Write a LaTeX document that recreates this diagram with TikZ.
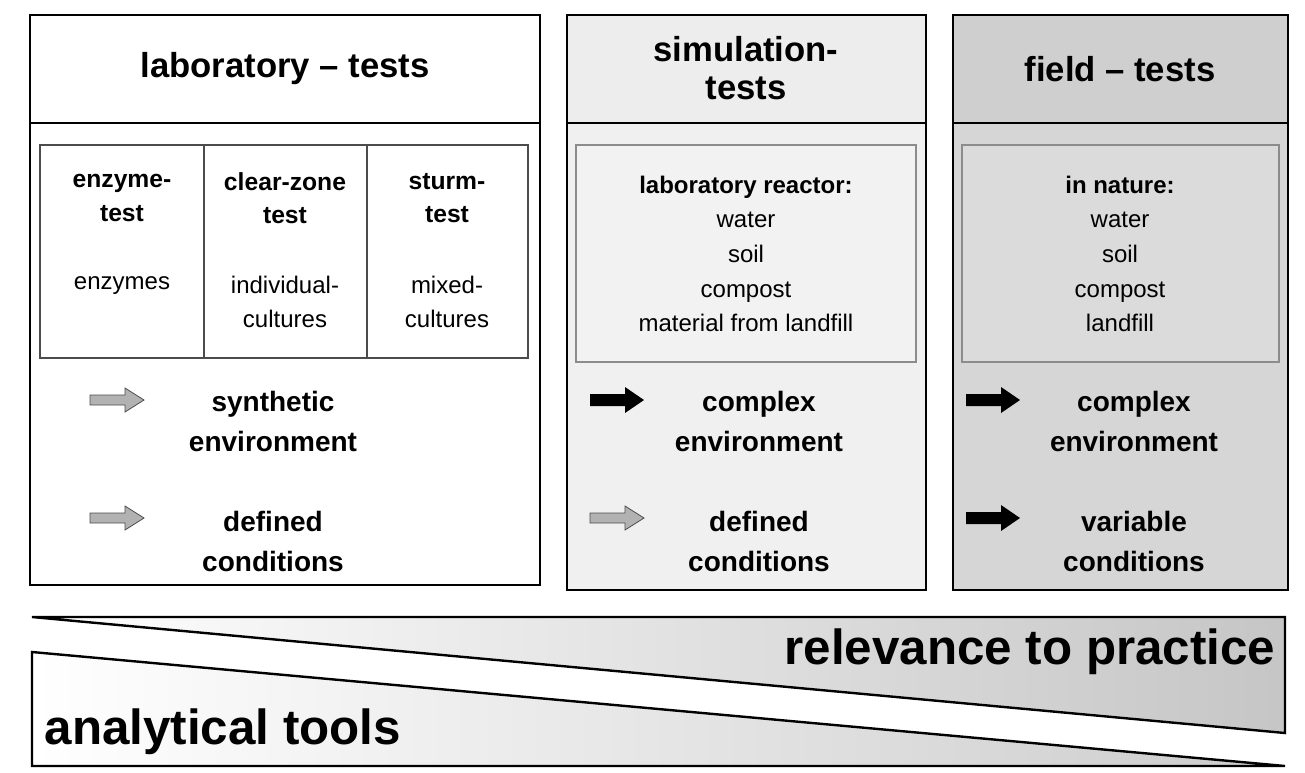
\documentclass[tikz,border=0pt]{standalone}
\usepackage{fontspec}
\setmainfont{Liberation Sans}
\begin{document}
\begin{tikzpicture}[x=0.75pt,y=-0.75pt,
 box/.style={draw=black,line width=1.6pt},
 inner/.style={draw=black!70,line width=0.8pt},
 hd/.style={font=\fontsize{26}{29}\selectfont\bfseries,align=center},
 bt/.style={font=\fontsize{21}{30}\selectfont\bfseries,align=center},
 st/.style={font=\fontsize{18}{26}\selectfont,align=center},
 sb/.style={font=\fontsize{18.5}{25}\selectfont\bfseries,align=center},
 garr/.pic={\draw[draw=black!70,fill=gray!60,line width=0.6pt] (-27,-5) -- (8,-5) -- (8,-12) -- (27,0) -- (8,12) -- (8,5) -- (-27,5) -- cycle;},
 barr/.pic={\fill[black] (-27,-6) -- (8,-6) -- (8,-13) -- (27,0) -- (8,13) -- (8,6) -- (-27,6) -- cycle;}]
\useasboundingbox (0,0) rectangle (1305,772);
% lab
\draw[box,fill=white] (30,123) rectangle (540,585);
\draw[box,fill=white] (30,15) rectangle (540,123);
\node[hd] (lh) at (285,69) {laboratory -- tests};
\draw[inner] (40,145) rectangle (528,358);
\draw[inner] (204,145) -- (204,358) (367,145) -- (367,358);
\node[sb] (e1) at (122,198) {enzyme-\\test};
\node[sb] (e2) at (285,198) {clear-zone\\test};
\node[sb] (e3) at (447,198) {sturm-\\test};
\node[st] (e4) at (122,286) {enzymes};
\node[st] (e5) at (285,302) {individual-\\cultures};
\node[st] (e6) at (447,302) {mixed-\\cultures};
\pic at (117,400) {garr};
\node[bt] (t1) at (273,421) {synthetic\\environment};
\pic at (117,518) {garr};
\node[bt] (t2) at (273,541) {defined\\conditions};
% sim
\draw[box,fill=gray!12] (567,123) rectangle (926,590);
\draw[box,fill=gray!14] (567,15) rectangle (926,123);
\node[hd] (sh) at (746,68) {simulation-\\tests};
\draw[inner,draw=black!45,fill=gray!10] (576,145) rectangle (916,362);
\node[st] (s1) at (746,254) {\textbf{laboratory reactor:}\\water\\soil\\compost\\material from landfill};
\pic at (617,400) {barr};
\node[bt] (t3) at (759,421) {complex\\environment};
\pic at (617,518) {garr};
\node[bt] (t4) at (759,541) {defined\\conditions};
% field
\draw[box,fill=gray!32] (953,123) rectangle (1288,590);
\draw[box,fill=gray!38] (953,15) rectangle (1288,123);
\node[hd] (fh) at (1120,69) {field -- tests};
\draw[inner,draw=black!45,fill=gray!28] (962,145) rectangle (1279,362);
\node[st] (f1) at (1120,254) {\textbf{in nature:}\\water\\soil\\compost\\landfill};
\pic at (993,400) {barr};
\node[bt] (t5) at (1134,421) {complex\\environment};
\pic at (993,518) {barr};
\node[bt] (t6) at (1134,541) {variable\\conditions};
% bottom
\shade[left color=white,right color=gray!45] (32,617) -- (1285,617) -- (1285,733) -- cycle;
\shade[left color=white,right color=gray!40] (32,652) -- (1285,766) -- (32,766) -- cycle;
\draw[line width=1.8pt] (32,617) -- (1285,617) -- (1285,733) -- cycle;
\draw[line width=1.8pt] (32,652) -- (1285,766) -- (32,766) -- cycle;
\node[font=\fontsize{37}{40}\selectfont\bfseries,anchor=east] (rp) at (1280,652) {relevance to practice};
\node[font=\fontsize{37}{40}\selectfont\bfseries,anchor=west] (at) at (40,732) {analytical tools};
\end{tikzpicture}
\end{document}
